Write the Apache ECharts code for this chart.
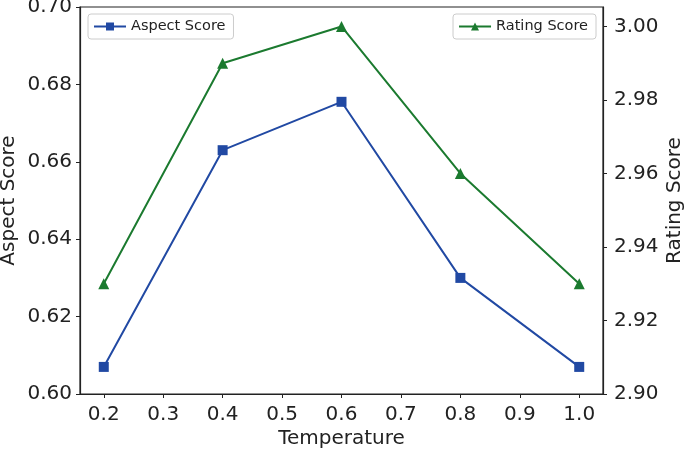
<!DOCTYPE html>
<html>
<head>
<meta charset="utf-8">
<script src="https://cdn.jsdelivr.net/npm/echarts@6/dist/echarts.min.js"></script>
<style>
  html, body { margin: 0; padding: 0; background: #fff; }
  #chart { width: 685px; height: 451px; }
</style>
</head>
<body>
<div id="chart"></div>
<script>
// data
const temperatures = [0.2, 0.4, 0.6, 0.8, 1.0]
const aspectScore = [0.607, 0.663, 0.6755, 0.630, 0.607]
const ratingScore = [2.93, 2.99, 3.00, 2.96, 2.93]
const xTicks = [0.2, 0.3, 0.4, 0.5, 0.6, 0.7, 0.8, 0.9, 1.0]
const leftTicks = [0.60, 0.62, 0.64, 0.66, 0.68, 0.70]
const rightTicks = [2.90, 2.92, 2.94, 2.96, 2.98, 3.00]

const font = 'DejaVu Sans'
const blue = '#2149a3'
const green = '#1b7a2f'
const ink = '#222'

const chart = echarts.init(document.getElementById('chart'))

const axisCommon = {
  axisLine: { show: true, lineStyle: { color: ink, width: 1.2 } },
  axisTick: { show: true, inside: false, length: 4, lineStyle: { color: ink } },
  splitLine: { show: false },
  nameLocation: 'middle',
  nameMoveOverlap: false,
  nameTextStyle: { fontFamily: font, fontSize: 20, color: ink }
}

const legendCommon = {
  top: 14,
  padding: [5, 8, 5, 5],
  itemWidth: 32, itemHeight: 10,
  borderColor: '#ccc', borderWidth: 1, borderRadius: 3,
  textStyle: { fontFamily: font, fontSize: 14.5, color: ink }
}

chart.setOption({
  animation: false,
  grid: {
    left: 80, right: 82, top: 7, bottom: 57,
    outerBoundsMode: 'none',
    show: true, borderColor: ink, borderWidth: 1.2
  },
  legend: [
    { ...legendCommon, data: ['Aspect Score'], left: 88 },
    { ...legendCommon, data: ['Rating Score'], right: 89 }
  ],
  xAxis: {
    ...axisCommon,
    type: 'value',
    min: 0.16, max: 1.04,
    name: 'Temperature',
    nameGap: 35,
    axisTick: { ...axisCommon.axisTick, customValues: xTicks },
    axisLabel: {
      customValues: xTicks,
      margin: 11,
      fontFamily: font, fontSize: 20, color: ink,
      formatter: v => v.toFixed(1)
    }
  },
  yAxis: [
    {
      ...axisCommon,
      type: 'value',
      position: 'left',
      min: 0.60, max: 0.70,
      name: 'Aspect Score',
      nameGap: 61,
      nameRotate: 90,
      axisTick: { ...axisCommon.axisTick, customValues: leftTicks },
      axisLabel: {
        customValues: leftTicks,
        margin: 8,
        fontFamily: font, fontSize: 20, color: ink,
        formatter: v => v.toFixed(2)
      }
    },
    {
      ...axisCommon,
      type: 'value',
      position: 'right',
      min: 2.90, max: 3.0053,
      name: 'Rating Score',
      nameGap: 62,
      nameRotate: 90,
      axisTick: { ...axisCommon.axisTick, customValues: rightTicks },
      axisLabel: {
        customValues: rightTicks,
        margin: 11,
        fontFamily: font, fontSize: 20, color: ink,
        formatter: v => v.toFixed(2)
      }
    }
  ],
  series: [
    {
      name: 'Aspect Score',
      type: 'line',
      yAxisIndex: 0,
      data: temperatures.map((t, i) => [t, aspectScore[i]]),
      symbol: 'rect',
      symbolSize: 10,
      lineStyle: { color: blue, width: 2 },
      itemStyle: { color: blue }
    },
    {
      name: 'Rating Score',
      type: 'line',
      yAxisIndex: 1,
      data: temperatures.map((t, i) => [t, ratingScore[i]]),
      symbol: 'triangle',
      symbolSize: 11,
      lineStyle: { color: green, width: 2 },
      itemStyle: { color: green }
    }
  ]
})
</script>
</body>
</html>
